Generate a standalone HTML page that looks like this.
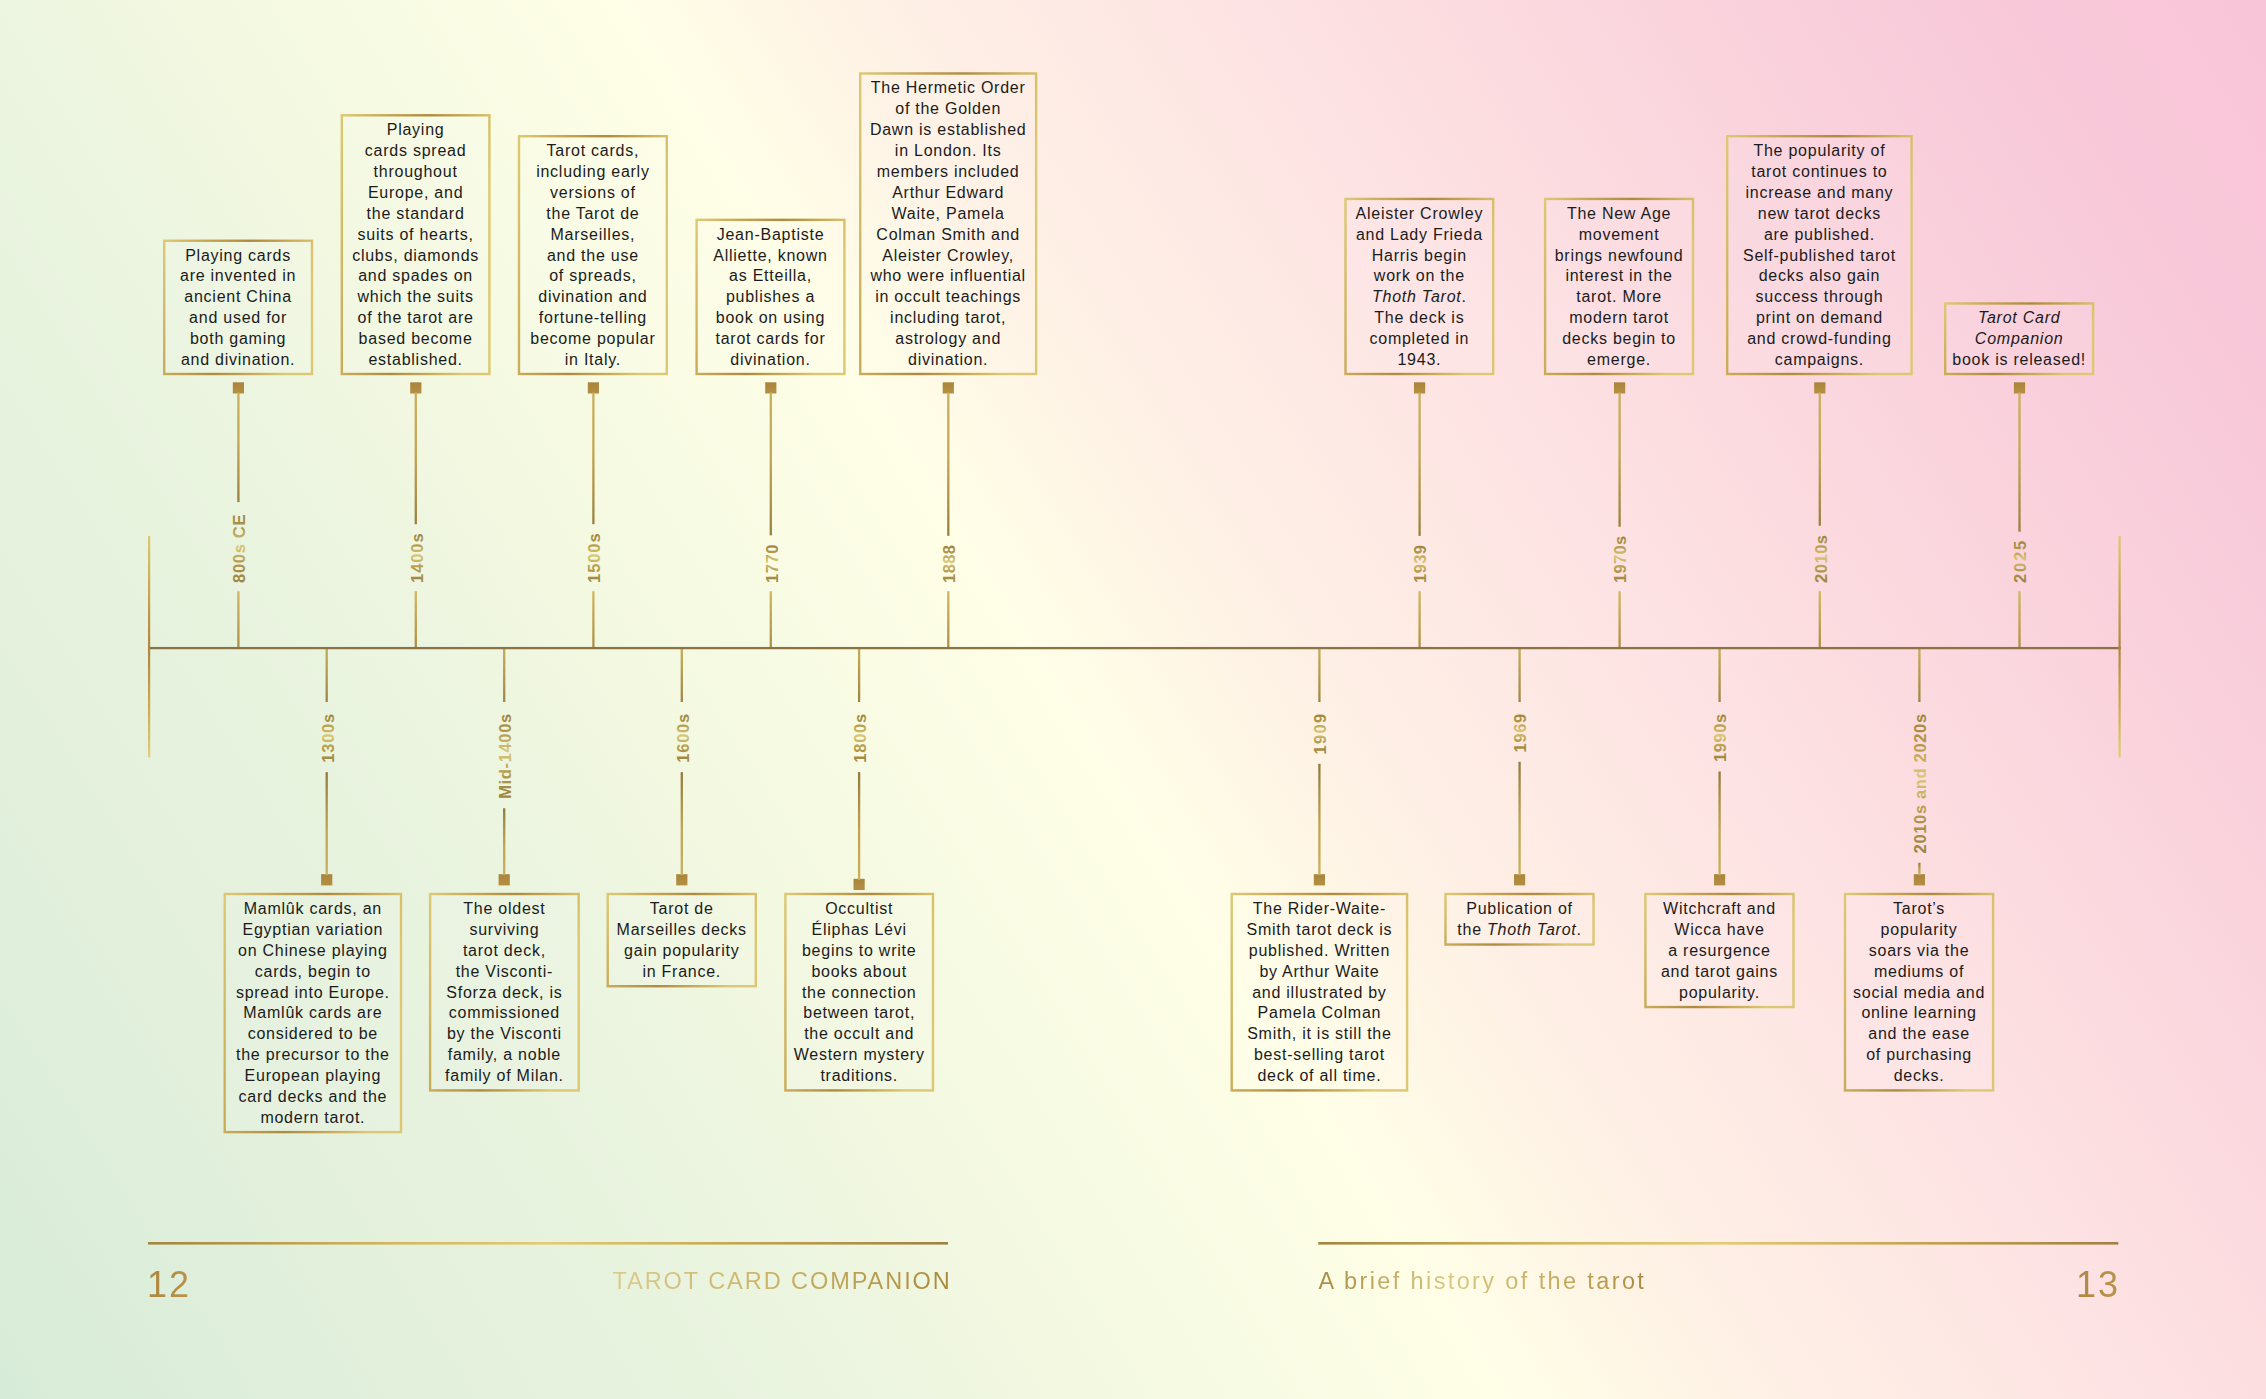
<!DOCTYPE html>
<html lang="en">
<head>
<meta charset="utf-8">
<title>A brief history of the tarot</title>
<style>
html,body{margin:0;padding:0}
body{width:2266px;height:1399px;overflow:hidden;position:relative;font-family:"Liberation Sans",sans-serif;
background:linear-gradient(57.7deg,#d7ecd8 0%,#e5f1dd 16.6%,#ebf5e0 27.4%,#f1f7e0 32.4%,#f8fbe3 40%,#fffee7 47.7%,#fef3e5 54.4%,#feeee5 57.8%,#fde2e3 68.7%,#fcdde0 72.6%,#fad3dd 81.4%,#f8c8d9 92%,#f8c5d8 100%)}
svg{position:absolute;left:0;top:0}
.t{position:absolute;text-align:center;white-space:nowrap;font-size:16px;line-height:20px;letter-spacing:0.75px;color:#1b1b1b}
.t span{position:absolute;left:0;width:100%;display:block}
.t i{font-style:italic}
.yl{font-family:"Liberation Sans",sans-serif;font-weight:bold;font-size:16.6px}
.f{position:absolute;white-space:nowrap;-webkit-background-clip:text;background-clip:text;color:transparent}
.pn{font-size:36px;line-height:36px;letter-spacing:2px;top:1266.6px;background-image:linear-gradient(90deg,#ad8640,#b89348)}
.ft{font-size:23.5px;line-height:24px;top:1269px}
</style>
</head>
<body>
<svg width="2266" height="1399" viewBox="0 0 2266 1399">
<defs>
<linearGradient id="gb" x1="0" y1="0" x2="1" y2="0.25">
<stop offset="0" stop-color="#dcc974"/><stop offset=".28" stop-color="#c6a653"/><stop offset=".55" stop-color="#ae8b3e"/><stop offset=".8" stop-color="#c9ab57"/><stop offset="1" stop-color="#dcc872"/>
</linearGradient>
<linearGradient id="gs" x1="0" y1="0" x2="0" y2="1">
<stop offset="0" stop-color="#a9843c"/><stop offset="1" stop-color="#b48f42"/>
</linearGradient>
<linearGradient id="gu1" x1="0" y1="0" x2="0" y2="1">
<stop offset="0" stop-color="#c9b05c"/><stop offset=".45" stop-color="#c2a653"/><stop offset="1" stop-color="#9a8040"/>
</linearGradient>
<linearGradient id="gu2" x1="0" y1="0" x2="0" y2="1">
<stop offset="0" stop-color="#d0b860"/><stop offset="1" stop-color="#ae8e46"/>
</linearGradient>
<linearGradient id="gl1" x1="0" y1="0" x2="0" y2="1">
<stop offset="0" stop-color="#c6ac58"/><stop offset="1" stop-color="#a08646"/>
</linearGradient>
<linearGradient id="gl2" x1="0" y1="0" x2="0" y2="1">
<stop offset="0" stop-color="#937b40"/><stop offset=".55" stop-color="#bfa452"/><stop offset="1" stop-color="#c9b05c"/>
</linearGradient>
<linearGradient id="ge" x1="0" y1="0" x2="0" y2="1">
<stop offset="0" stop-color="#dcc870"/><stop offset=".3" stop-color="#c2a04c"/><stop offset=".5" stop-color="#ad863f"/><stop offset=".75" stop-color="#c8a850"/><stop offset="1" stop-color="#e0cd78"/>
</linearGradient>
<linearGradient id="gf" x1="0" y1="0" x2="1" y2="0">
<stop offset="0" stop-color="#a4843f"/><stop offset=".3" stop-color="#d2b65e"/><stop offset=".5" stop-color="#e2cb72"/><stop offset=".75" stop-color="#c3a450"/><stop offset="1" stop-color="#9f8142"/>
</linearGradient>
<linearGradient id="gt" x1="0" y1="0" x2="1" y2="0">
<stop offset="0" stop-color="#9c833f"/><stop offset=".3" stop-color="#b59b4c"/><stop offset=".55" stop-color="#d8c878"/><stop offset=".78" stop-color="#b49a4c"/><stop offset="1" stop-color="#9c833e"/>
</linearGradient>
</defs>
<rect x="164.20" y="240.75" width="147.80" height="133.25" fill="rgba(255,255,255,.07)" stroke="url(#gb)" stroke-width="2.4"/>
<rect x="232.80" y="382.3" width="11.2" height="11.2" fill="url(#gs)"/>
<rect x="237.25" y="392.50" width="2.3" height="109.60" fill="url(#gu1)"/>
<rect x="237.25" y="591.20" width="2.3" height="56.80" fill="url(#gu2)"/>
<text class="yl" transform="translate(245.20 582.90) rotate(-90)" x="0" y="0" textLength="68.4" lengthAdjust="spacing" fill="url(#gt)">800s CE</text>
<rect x="341.80" y="115.29" width="147.60" height="258.71" fill="rgba(255,255,255,.07)" stroke="url(#gb)" stroke-width="2.4"/>
<rect x="410.20" y="382.3" width="11.2" height="11.2" fill="url(#gs)"/>
<rect x="414.65" y="392.50" width="2.3" height="131.70" fill="url(#gu1)"/>
<rect x="414.65" y="591.20" width="2.3" height="56.80" fill="url(#gu2)"/>
<text class="yl" transform="translate(422.60 582.90) rotate(-90)" x="0" y="0" textLength="49.6" lengthAdjust="spacing" fill="url(#gt)">1400s</text>
<rect x="519.00" y="136.20" width="147.80" height="237.80" fill="rgba(255,255,255,.07)" stroke="url(#gb)" stroke-width="2.4"/>
<rect x="587.80" y="382.3" width="11.2" height="11.2" fill="url(#gs)"/>
<rect x="592.25" y="392.50" width="2.3" height="131.70" fill="url(#gu1)"/>
<rect x="592.25" y="591.20" width="2.3" height="56.80" fill="url(#gu2)"/>
<text class="yl" transform="translate(600.20 582.90) rotate(-90)" x="0" y="0" textLength="49.6" lengthAdjust="spacing" fill="url(#gt)">1500s</text>
<rect x="696.60" y="219.84" width="147.80" height="154.16" fill="rgba(255,255,255,.07)" stroke="url(#gb)" stroke-width="2.4"/>
<rect x="765.20" y="382.3" width="11.2" height="11.2" fill="url(#gs)"/>
<rect x="769.65" y="392.50" width="2.3" height="142.80" fill="url(#gu1)"/>
<rect x="769.65" y="591.20" width="2.3" height="56.80" fill="url(#gu2)"/>
<text class="yl" transform="translate(777.60 582.90) rotate(-90)" x="0" y="0" textLength="38.5" lengthAdjust="spacing" fill="url(#gt)">1770</text>
<rect x="860.20" y="73.47" width="175.90" height="300.53" fill="rgba(255,255,255,.07)" stroke="url(#gb)" stroke-width="2.4"/>
<rect x="942.70" y="382.3" width="11.2" height="11.2" fill="url(#gs)"/>
<rect x="947.15" y="392.50" width="2.3" height="143.30" fill="url(#gu1)"/>
<rect x="947.15" y="591.20" width="2.3" height="56.80" fill="url(#gu2)"/>
<text class="yl" transform="translate(955.10 582.90) rotate(-90)" x="0" y="0" textLength="38.0" lengthAdjust="spacing" fill="url(#gt)">1888</text>
<rect x="1345.50" y="198.93" width="147.70" height="175.07" fill="rgba(255,255,255,.07)" stroke="url(#gb)" stroke-width="2.4"/>
<rect x="1414.00" y="382.3" width="11.2" height="11.2" fill="url(#gs)"/>
<rect x="1418.45" y="392.50" width="2.3" height="143.40" fill="url(#gu1)"/>
<rect x="1418.45" y="591.20" width="2.3" height="56.80" fill="url(#gu2)"/>
<text class="yl" transform="translate(1426.40 582.90) rotate(-90)" x="0" y="0" textLength="37.9" lengthAdjust="spacing" fill="url(#gt)">1939</text>
<rect x="1545.10" y="198.93" width="147.90" height="175.07" fill="rgba(255,255,255,.07)" stroke="url(#gb)" stroke-width="2.4"/>
<rect x="1614.00" y="382.3" width="11.2" height="11.2" fill="url(#gs)"/>
<rect x="1618.45" y="392.50" width="2.3" height="134.20" fill="url(#gu1)"/>
<rect x="1618.45" y="591.20" width="2.3" height="56.80" fill="url(#gu2)"/>
<text class="yl" transform="translate(1626.40 582.90) rotate(-90)" x="0" y="0" textLength="47.1" lengthAdjust="spacing" fill="url(#gt)">1970s</text>
<rect x="1727.20" y="136.20" width="184.40" height="237.80" fill="rgba(255,255,255,.07)" stroke="url(#gb)" stroke-width="2.4"/>
<rect x="1814.20" y="382.3" width="11.2" height="11.2" fill="url(#gs)"/>
<rect x="1818.65" y="392.50" width="2.3" height="133.30" fill="url(#gu1)"/>
<rect x="1818.65" y="591.20" width="2.3" height="56.80" fill="url(#gu2)"/>
<text class="yl" transform="translate(1826.60 582.90) rotate(-90)" x="0" y="0" textLength="48.0" lengthAdjust="spacing" fill="url(#gt)">2010s</text>
<rect x="1945.20" y="303.48" width="147.90" height="70.52" fill="rgba(255,255,255,.07)" stroke="url(#gb)" stroke-width="2.4"/>
<rect x="2013.90" y="382.3" width="11.2" height="11.2" fill="url(#gs)"/>
<rect x="2018.35" y="392.50" width="2.3" height="139.20" fill="url(#gu1)"/>
<rect x="2018.35" y="591.20" width="2.3" height="56.80" fill="url(#gu2)"/>
<text class="yl" transform="translate(2026.30 582.90) rotate(-90)" x="0" y="0" textLength="42.1" lengthAdjust="spacing" fill="url(#gt)">2025</text>
<rect x="224.70" y="894.00" width="176.30" height="238.10" fill="rgba(255,255,255,.07)" stroke="url(#gb)" stroke-width="2.4"/>
<rect x="321.10" y="874.20" width="11.2" height="11.2" fill="url(#gs)"/>
<rect x="325.55" y="648.00" width="2.3" height="54.00" fill="url(#gl1)"/>
<rect x="325.55" y="772.10" width="2.3" height="103.10" fill="url(#gl2)"/>
<text class="yl" transform="translate(333.50 762.70) rotate(-90)" x="0" y="0" textLength="48.9" lengthAdjust="spacing" fill="url(#gt)">1300s</text>
<rect x="430.10" y="894.00" width="148.60" height="196.42" fill="rgba(255,255,255,.07)" stroke="url(#gb)" stroke-width="2.4"/>
<rect x="498.60" y="874.20" width="11.2" height="11.2" fill="url(#gs)"/>
<rect x="503.05" y="648.00" width="2.3" height="54.00" fill="url(#gl1)"/>
<rect x="503.05" y="808.20" width="2.3" height="67.00" fill="url(#gl2)"/>
<text class="yl" transform="translate(511.00 798.80) rotate(-90)" x="0" y="0" textLength="85.0" lengthAdjust="spacing" fill="url(#gt)">Mid-1400s</text>
<rect x="607.70" y="894.00" width="148.10" height="92.22" fill="rgba(255,255,255,.07)" stroke="url(#gb)" stroke-width="2.4"/>
<rect x="676.20" y="874.20" width="11.2" height="11.2" fill="url(#gs)"/>
<rect x="680.65" y="648.00" width="2.3" height="54.00" fill="url(#gl1)"/>
<rect x="680.65" y="772.10" width="2.3" height="103.10" fill="url(#gl2)"/>
<text class="yl" transform="translate(688.60 762.70) rotate(-90)" x="0" y="0" textLength="48.9" lengthAdjust="spacing" fill="url(#gt)">1600s</text>
<rect x="785.40" y="894.00" width="147.60" height="196.42" fill="rgba(255,255,255,.07)" stroke="url(#gb)" stroke-width="2.4"/>
<rect x="853.50" y="878.80" width="11.2" height="11.2" fill="url(#gs)"/>
<rect x="857.95" y="648.00" width="2.3" height="54.00" fill="url(#gl1)"/>
<rect x="857.95" y="772.10" width="2.3" height="107.70" fill="url(#gl2)"/>
<text class="yl" transform="translate(865.90 762.70) rotate(-90)" x="0" y="0" textLength="48.9" lengthAdjust="spacing" fill="url(#gt)">1800s</text>
<rect x="1231.70" y="894.00" width="175.40" height="196.42" fill="rgba(255,255,255,.07)" stroke="url(#gb)" stroke-width="2.4"/>
<rect x="1313.80" y="874.20" width="11.2" height="11.2" fill="url(#gs)"/>
<rect x="1318.25" y="648.00" width="2.3" height="54.00" fill="url(#gl1)"/>
<rect x="1318.25" y="763.80" width="2.3" height="111.40" fill="url(#gl2)"/>
<text class="yl" transform="translate(1326.20 754.40) rotate(-90)" x="0" y="0" textLength="40.6" lengthAdjust="spacing" fill="url(#gt)">1909</text>
<rect x="1445.50" y="894.00" width="148.00" height="50.54" fill="rgba(255,255,255,.07)" stroke="url(#gb)" stroke-width="2.4"/>
<rect x="1514.00" y="874.20" width="11.2" height="11.2" fill="url(#gs)"/>
<rect x="1518.45" y="648.00" width="2.3" height="54.00" fill="url(#gl1)"/>
<rect x="1518.45" y="761.80" width="2.3" height="113.40" fill="url(#gl2)"/>
<text class="yl" transform="translate(1526.40 752.40) rotate(-90)" x="0" y="0" textLength="38.6" lengthAdjust="spacing" fill="url(#gt)">1969</text>
<rect x="1645.40" y="894.00" width="148.10" height="113.06" fill="rgba(255,255,255,.07)" stroke="url(#gb)" stroke-width="2.4"/>
<rect x="1714.00" y="874.20" width="11.2" height="11.2" fill="url(#gs)"/>
<rect x="1718.45" y="648.00" width="2.3" height="54.00" fill="url(#gl1)"/>
<rect x="1718.45" y="771.50" width="2.3" height="103.70" fill="url(#gl2)"/>
<text class="yl" transform="translate(1726.40 762.10) rotate(-90)" x="0" y="0" textLength="48.3" lengthAdjust="spacing" fill="url(#gt)">1990s</text>
<rect x="1845.00" y="894.00" width="148.10" height="196.42" fill="rgba(255,255,255,.07)" stroke="url(#gb)" stroke-width="2.4"/>
<rect x="1913.80" y="874.20" width="11.2" height="11.2" fill="url(#gs)"/>
<rect x="1918.25" y="648.00" width="2.3" height="54.00" fill="url(#gl1)"/>
<rect x="1918.25" y="862.80" width="2.3" height="12.40" fill="url(#gl2)"/>
<text class="yl" transform="translate(1926.20 853.40) rotate(-90)" x="0" y="0" textLength="139.6" lengthAdjust="spacing" fill="url(#gt)">2010s and 2020s</text>
<rect x="148" y="646.95" width="1972.70" height="2.3" fill="#8a7446"/>
<rect x="148.00" y="536" width="2.2" height="221.5" fill="url(#ge)"/>
<rect x="2118.50" y="536" width="2.2" height="221.5" fill="url(#ge)"/>
<rect x="148" y="1242" width="800" height="2.6" fill="url(#gf)"/>
<rect x="1318.3" y="1242" width="800" height="2.6" fill="url(#gf)"/>
</svg>
<div class="t" style="left:163.0px;top:246px;width:150.2px"><span style="top:0px">Playing cards</span> <span style="top:20px">are invented in</span> <span style="top:41px">ancient China</span> <span style="top:62px">and used for</span> <span style="top:83px">both gaming</span> <span style="top:104px">and divination.</span></div>
<div class="t" style="left:340.6px;top:120px;width:150.0px"><span style="top:0px">Playing</span> <span style="top:21px">cards spread</span> <span style="top:42px">throughout</span> <span style="top:63px">Europe, and</span> <span style="top:84px">the standard</span> <span style="top:105px">suits of hearts,</span> <span style="top:126px">clubs, diamonds</span> <span style="top:146px">and spades on</span> <span style="top:167px">which the suits</span> <span style="top:188px">of the tarot are</span> <span style="top:209px">based become</span> <span style="top:230px">established.</span></div>
<div class="t" style="left:517.8px;top:141px;width:150.2px"><span style="top:0px">Tarot cards,</span> <span style="top:21px">including early</span> <span style="top:42px">versions of</span> <span style="top:63px">the Tarot de</span> <span style="top:84px">Marseilles,</span> <span style="top:105px">and the use</span> <span style="top:125px">of spreads,</span> <span style="top:146px">divination and</span> <span style="top:167px">fortune-telling</span> <span style="top:188px">become popular</span> <span style="top:209px">in Italy.</span></div>
<div class="t" style="left:695.4px;top:225px;width:150.2px"><span style="top:0px">Jean-Baptiste</span> <span style="top:21px">Alliette, known</span> <span style="top:41px">as Etteilla,</span> <span style="top:62px">publishes a</span> <span style="top:83px">book on using</span> <span style="top:104px">tarot cards for</span> <span style="top:125px">divination.</span></div>
<div class="t" style="left:859.0px;top:78px;width:178.3px"><span style="top:0px">The Hermetic Order</span> <span style="top:21px">of the Golden</span> <span style="top:42px">Dawn is established</span> <span style="top:63px">in London. Its</span> <span style="top:84px">members included</span> <span style="top:105px">Arthur Edward</span> <span style="top:126px">Waite, Pamela</span> <span style="top:147px">Colman Smith and</span> <span style="top:168px">Aleister Crowley,</span> <span style="top:188px">who were influential</span> <span style="top:209px">in occult teachings</span> <span style="top:230px">including tarot,</span> <span style="top:251px">astrology and</span> <span style="top:272px">divination.</span></div>
<div class="t" style="left:1344.3px;top:204px;width:150.1px"><span style="top:0px">Aleister Crowley</span> <span style="top:21px">and Lady Frieda</span> <span style="top:42px">Harris begin</span> <span style="top:62px">work on the</span> <span style="top:83px"><i>Thoth Tarot</i>.</span> <span style="top:104px">The deck is</span> <span style="top:125px">completed in</span> <span style="top:146px">1943.</span></div>
<div class="t" style="left:1543.9px;top:204px;width:150.3px"><span style="top:0px">The New Age</span> <span style="top:21px">movement</span> <span style="top:42px">brings newfound</span> <span style="top:62px">interest in the</span> <span style="top:83px">tarot. More</span> <span style="top:104px">modern tarot</span> <span style="top:125px">decks begin to</span> <span style="top:146px">emerge.</span></div>
<div class="t" style="left:1726.0px;top:141px;width:186.8px"><span style="top:0px">The popularity of</span> <span style="top:21px">tarot continues to</span> <span style="top:42px">increase and many</span> <span style="top:63px">new tarot decks</span> <span style="top:84px">are published.</span> <span style="top:105px">Self-published tarot</span> <span style="top:125px">decks also gain</span> <span style="top:146px">success through</span> <span style="top:167px">print on demand</span> <span style="top:188px">and crowd-funding</span> <span style="top:209px">campaigns.</span></div>
<div class="t" style="left:1944.0px;top:308px;width:150.3px"><span style="top:0px"><i>Tarot Card</i></span> <span style="top:21px"><i>Companion</i></span> <span style="top:42px">book is released!</span></div>
<div class="t" style="left:223.5px;top:899px;width:178.7px"><span style="top:0px">Mamlûk cards, an</span> <span style="top:21px">Egyptian variation</span> <span style="top:42px">on Chinese playing</span> <span style="top:63px">cards, begin to</span> <span style="top:84px">spread into Europe.</span> <span style="top:104px">Mamlûk cards are</span> <span style="top:125px">considered to be</span> <span style="top:146px">the precursor to the</span> <span style="top:167px">European playing</span> <span style="top:188px">card decks and the</span> <span style="top:209px">modern tarot.</span></div>
<div class="t" style="left:428.9px;top:899px;width:151.0px"><span style="top:0px">The oldest</span> <span style="top:21px">surviving</span> <span style="top:42px">tarot deck,</span> <span style="top:63px">the Visconti-</span> <span style="top:84px">Sforza deck, is</span> <span style="top:104px">commissioned</span> <span style="top:125px">by the Visconti</span> <span style="top:146px">family, a noble</span> <span style="top:167px">family of Milan.</span></div>
<div class="t" style="left:606.5px;top:899px;width:150.5px"><span style="top:0px">Tarot de</span> <span style="top:21px">Marseilles decks</span> <span style="top:42px">gain popularity</span> <span style="top:63px">in France.</span></div>
<div class="t" style="left:784.2px;top:899px;width:150.0px"><span style="top:0px">Occultist</span> <span style="top:21px">Éliphas Lévi</span> <span style="top:42px">begins to write</span> <span style="top:63px">books about</span> <span style="top:84px">the connection</span> <span style="top:104px">between tarot,</span> <span style="top:125px">the occult and</span> <span style="top:146px">Western mystery</span> <span style="top:167px">traditions.</span></div>
<div class="t" style="left:1230.5px;top:899px;width:177.8px"><span style="top:0px">The Rider-Waite-</span> <span style="top:21px">Smith tarot deck is</span> <span style="top:42px">published. Written</span> <span style="top:63px">by Arthur Waite</span> <span style="top:84px">and illustrated by</span> <span style="top:104px">Pamela Colman</span> <span style="top:125px">Smith, it is still the</span> <span style="top:146px">best-selling tarot</span> <span style="top:167px">deck of all time.</span></div>
<div class="t" style="left:1444.3px;top:899px;width:150.4px"><span style="top:0px">Publication of</span> <span style="top:21px">the <i>Thoth Tarot</i>.</span></div>
<div class="t" style="left:1644.2px;top:899px;width:150.5px"><span style="top:0px">Witchcraft and</span> <span style="top:21px">Wicca have</span> <span style="top:42px">a resurgence</span> <span style="top:63px">and tarot gains</span> <span style="top:84px">popularity.</span></div>
<div class="t" style="left:1843.8px;top:899px;width:150.5px"><span style="top:0px">Tarot’s</span> <span style="top:21px">popularity</span> <span style="top:42px">soars via the</span> <span style="top:63px">mediums of</span> <span style="top:84px">social media and</span> <span style="top:104px">online learning</span> <span style="top:125px">and the ease</span> <span style="top:146px">of purchasing</span> <span style="top:167px">decks.</span></div>
<div class="f pn" style="left:147px">12</div>
<div class="f ft" style="left:612.4px;width:339.4px;text-align:right;letter-spacing:1.95px;background-image:linear-gradient(90deg,#dccb8e,#cdb468 45%,#a98a3c)">TAROT CARD COMPANION</div>
<div class="f ft" style="left:1318.4px;letter-spacing:2.38px;background-image:linear-gradient(90deg,#a88a44,#d9c985 40%,#c4a95c 75%,#ab8a40)">A brief history of the tarot</div>
<div class="f pn" style="left:2070px;width:50px;text-align:right">13</div>
</body>
</html>
